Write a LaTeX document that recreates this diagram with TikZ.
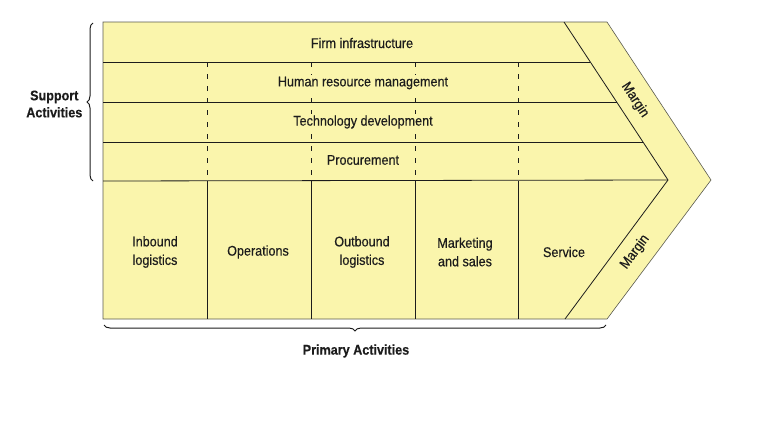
\documentclass[tikz,border=0pt]{standalone}
\usepackage{fontspec}
\setmainfont{Liberation Sans}[FakeStretch=0.9,FakeBold=0.35]
\usetikzlibrary{decorations.pathreplacing,calc}
\definecolor{chainfill}{RGB}{250,245,172}
\definecolor{ink}{RGB}{28,28,28}
\definecolor{edge}{RGB}{90,90,80}
\begin{document}
\begin{tikzpicture}[x=1pt,y=-1pt,
  font=\fontsize{14}{18.5}\selectfont,
  txt/.style={text=ink,inner sep=1.5pt,align=center},
  ctxt/.style={txt,fill=chainfill},
  solidline/.style={draw=ink,line width=0.8pt},
  dashline/.style={draw=ink,line width=0.8pt,dash pattern=on 5pt off 7pt},
  bracepath/.style={draw=ink,line width=1pt,decorate,decoration={brace,amplitude=6pt}}]
\useasboundingbox (0,0) rectangle (768,439);
% outer chain shape
\coordinate (TL) at (103,22);
\coordinate (TR) at (607,22);
\coordinate (TIP) at (711,180);
\coordinate (BR) at (607,319);
\coordinate (BL) at (103,319);
\fill[chainfill] (TL) -- (TR) -- (TIP) -- (BR) -- (BL) -- cycle;
\draw[edge,line width=0.6pt] (TL) -- (TR) -- (TIP) -- (BR) -- (BL) -- cycle;
% inner margin boundary
\coordinate (ITop) at (564,22);
\coordinate (ITip) at (668,180);
\coordinate (IBot) at (565,319);
\draw[solidline] (ITop) -- (ITip) -- (IBot);
% row lines
\draw[solidline] (103,62) -- (590.3,62);
\draw[solidline] (103,102) -- (616.7,102);
\draw[solidline] (103,142) -- (643,142);
\draw[solidline] (103,181) -- (ITip);
% dashed support columns, solid primary columns
\foreach \x in {207,311,415,518}{
  \draw[dashline] (\x,62) -- (\x,181);
  \draw[solidline] (\x,181) -- (\x,319);
}
% support activity labels
\node[ctxt] (firm) at (362,43) {Firm infrastructure};
\node[ctxt] (hrm) at (363,83) {Human resource management};
\node[ctxt] (tech) at (363,122) {Technology development};
\node[ctxt] (proc) at (363,160) {Procurement};
% primary activity labels
\node[txt] (inb) at (155,252) {Inbound\\logistics};
\node[txt] (ops) at (258,252) {Operations};
\node[txt] (outb) at (362,252) {Outbound\\logistics};
\node[txt] (mkt) at (465,252) {Marketing\\and sales};
\node[txt] (serv) at (564,252) {Service};
% margin labels
\node[txt,rotate=-56.6] (margin1) at (635,100) {Margin};
\node[txt,rotate=53.5] (margin2) at (635,252) {Margin};
% braces
\coordinate (lbTop) at (93,23);
\coordinate (lbBot) at (93,181);
\draw[bracepath] (lbBot) -- (lbTop);
\coordinate (bbL) at (104,325);
\coordinate (bbR) at (606,325);
\draw[bracepath] (bbR) -- (bbL);
\node[txt,font=\fontsize{14}{17}\selectfont\bfseries,anchor=east] (support) at (84,104) {Support\\Activities};
\node[txt,font=\fontsize{14}{17}\selectfont\bfseries] (primary) at (356,351) {Primary Activities};
\end{tikzpicture}
\end{document}
